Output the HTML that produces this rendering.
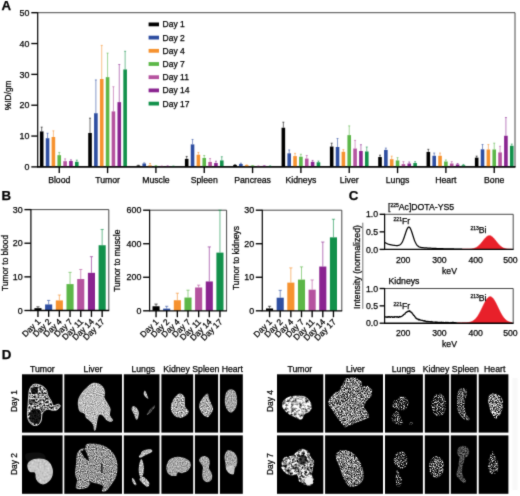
<!DOCTYPE html><html><head><meta charset="utf-8"><title>Figure</title><style>html,body{margin:0;padding:0;background:#fff}svg{display:block}text{font-family:"Liberation Sans",Arial,sans-serif;fill:#000;stroke:#000;stroke-width:0.25px}</style></head><body>
<svg width="520" height="496" viewBox="0 0 520 496">
<defs>
<filter id="gb" color-interpolation-filters="sRGB" x="0" y="0" width="520" height="496" filterUnits="userSpaceOnUse"><feConvolveMatrix order="3" kernelMatrix="0.02 0.09 0.02 0.09 0.56 0.09 0.02 0.09 0.02" edgeMode="duplicate" preserveAlpha="false"/></filter>
<filter id="soft" x="-20%" y="-20%" width="140%" height="140%"><feGaussianBlur stdDeviation="0.4"/></filter>
<filter id="texA" x="-10%" y="-10%" width="120%" height="120%" color-interpolation-filters="sRGB"><feTurbulence type="fractalNoise" baseFrequency="0.9" numOctaves="1" seed="2" result="n"/><feColorMatrix in="n" type="matrix" values="0.9 0 0 0 0.28  0.9 0 0 0 0.28  0.9 0 0 0 0.28  0 0 0 0 1" result="g"/><feComposite in="g" in2="SourceAlpha" operator="in" result="m"/><feGaussianBlur in="m" stdDeviation="0.4"/></filter>
<filter id="texA2" x="-10%" y="-10%" width="120%" height="120%" color-interpolation-filters="sRGB"><feTurbulence type="fractalNoise" baseFrequency="0.87" numOctaves="1" seed="5" result="n"/><feColorMatrix in="n" type="matrix" values="1.4 0 0 0 -0.12  1.4 0 0 0 -0.12  1.4 0 0 0 -0.12  0 0 0 0 1" result="g"/><feComposite in="g" in2="SourceAlpha" operator="in" result="m"/><feGaussianBlur in="m" stdDeviation="0.35"/></filter>
<filter id="texL3" x="-10%" y="-10%" width="120%" height="120%" color-interpolation-filters="sRGB"><feTurbulence type="fractalNoise" baseFrequency="0.9" numOctaves="1" seed="41" result="n"/><feColorMatrix in="n" type="matrix" values="2.2 0 0 0 -0.75  2.2 0 0 0 -0.75  2.2 0 0 0 -0.75  0 0 0 0 1" result="g"/><feComposite in="g" in2="SourceAlpha" operator="in" result="m"/><feGaussianBlur in="m" stdDeviation="0.35"/></filter>
<filter id="texM2" x="-10%" y="-10%" width="120%" height="120%" color-interpolation-filters="sRGB"><feTurbulence type="fractalNoise" baseFrequency="1.2" numOctaves="1" seed="43" result="n"/><feColorMatrix in="n" type="matrix" values="3.2 0 0 0 -1.1  3.2 0 0 0 -1.1  3.2 0 0 0 -1.1  0 0 0 0 1" result="g"/><feComposite in="g" in2="SourceAlpha" operator="in" result="m"/><feGaussianBlur in="m" stdDeviation="0.35"/></filter>
<filter id="texC7" x="-10%" y="-10%" width="120%" height="120%" color-interpolation-filters="sRGB"><feTurbulence type="fractalNoise" baseFrequency="0.4" numOctaves="2" seed="37" result="n"/><feColorMatrix in="n" type="matrix" values="2.4 0 0 0 -0.62  2.4 0 0 0 -0.62  2.4 0 0 0 -0.62  0 0 0 0 1" result="g"/><feComposite in="g" in2="SourceAlpha" operator="in" result="m"/><feGaussianBlur in="m" stdDeviation="0.45"/></filter>
<filter id="texC1" x="-10%" y="-10%" width="120%" height="120%" color-interpolation-filters="sRGB"><feTurbulence type="fractalNoise" baseFrequency="0.55" numOctaves="2" seed="31" result="n"/><feColorMatrix in="n" type="matrix" values="2.4 0 0 0 -0.68  2.4 0 0 0 -0.68  2.4 0 0 0 -0.68  0 0 0 0 1" result="g"/><feComposite in="g" in2="SourceAlpha" operator="in" result="m"/><feGaussianBlur in="m" stdDeviation="0.4"/></filter>
<filter id="texB" x="-10%" y="-10%" width="120%" height="120%" color-interpolation-filters="sRGB"><feTurbulence type="fractalNoise" baseFrequency="0.8" numOctaves="1" seed="7" result="n"/><feColorMatrix in="n" type="matrix" values="1.5 0 0 0 -0.08  1.5 0 0 0 -0.08  1.5 0 0 0 -0.08  0 0 0 0 1" result="g"/><feComposite in="g" in2="SourceAlpha" operator="in" result="m"/><feGaussianBlur in="m" stdDeviation="0.4"/></filter>
<filter id="texS" x="-10%" y="-10%" width="120%" height="120%" color-interpolation-filters="sRGB"><feTurbulence type="fractalNoise" baseFrequency="0.8" numOctaves="1" seed="9" result="n"/><feColorMatrix in="n" type="matrix" values="0.8 0 0 0 0.25  0.8 0 0 0 0.25  0.8 0 0 0 0.25  0 0 0 0 1" result="g"/><feComposite in="g" in2="SourceAlpha" operator="in" result="m"/><feGaussianBlur in="m" stdDeviation="0.45"/></filter>
<filter id="texT" x="-10%" y="-10%" width="120%" height="120%" color-interpolation-filters="sRGB"><feTurbulence type="fractalNoise" baseFrequency="0.5" numOctaves="1" seed="4" result="n"/><feColorMatrix in="n" type="matrix" values="0.3 0 0 0 0.63  0.3 0 0 0 0.63  0.3 0 0 0 0.63  0 0 0 0 1" result="g"/><feComposite in="g" in2="SourceAlpha" operator="in" result="m"/><feGaussianBlur in="m" stdDeviation="0.55"/></filter>
<filter id="texC" x="-10%" y="-10%" width="120%" height="120%" color-interpolation-filters="sRGB"><feTurbulence type="fractalNoise" baseFrequency="0.35" numOctaves="2" seed="11" result="n"/><feColorMatrix in="n" type="matrix" values="2.2 0 0 0 -0.35  2.2 0 0 0 -0.35  2.2 0 0 0 -0.35  0 0 0 0 1" result="g"/><feComposite in="g" in2="SourceAlpha" operator="in" result="m"/><feGaussianBlur in="m" stdDeviation="0.45"/></filter>
<filter id="texH" x="-10%" y="-10%" width="120%" height="120%" color-interpolation-filters="sRGB"><feTurbulence type="fractalNoise" baseFrequency="1.3" numOctaves="1" seed="13" result="n"/><feColorMatrix in="n" type="matrix" values="2.6 0 0 0 -0.8  2.6 0 0 0 -0.8  2.6 0 0 0 -0.8  0 0 0 0 1" result="g"/><feComposite in="g" in2="SourceAlpha" operator="in" result="m"/><feGaussianBlur in="m" stdDeviation="0.3"/></filter>
<filter id="texM" x="-10%" y="-10%" width="120%" height="120%" color-interpolation-filters="sRGB"><feTurbulence type="fractalNoise" baseFrequency="1.2" numOctaves="1" seed="17" result="n"/><feColorMatrix in="n" type="matrix" values="3.2 0 0 0 -1.25  3.2 0 0 0 -1.25  3.2 0 0 0 -1.25  0 0 0 0 1" result="g"/><feComposite in="g" in2="SourceAlpha" operator="in" result="m"/><feGaussianBlur in="m" stdDeviation="0.35"/></filter>
<filter id="texL" x="-10%" y="-10%" width="120%" height="120%" color-interpolation-filters="sRGB"><feTurbulence type="fractalNoise" baseFrequency="1.2" numOctaves="1" seed="19" result="n"/><feColorMatrix in="n" type="matrix" values="3.2 0 0 0 -1.35  3.2 0 0 0 -1.35  3.2 0 0 0 -1.35  0 0 0 0 1" result="g"/><feComposite in="g" in2="SourceAlpha" operator="in" result="m"/><feGaussianBlur in="m" stdDeviation="0.35"/></filter>
<filter id="texL2" x="-10%" y="-10%" width="120%" height="120%" color-interpolation-filters="sRGB"><feTurbulence type="fractalNoise" baseFrequency="1.2" numOctaves="1" seed="23" result="n"/><feColorMatrix in="n" type="matrix" values="3.2 0 0 0 -1.4  3.2 0 0 0 -1.4  3.2 0 0 0 -1.4  0 0 0 0 1" result="g"/><feComposite in="g" in2="SourceAlpha" operator="in" result="m"/><feGaussianBlur in="m" stdDeviation="0.35"/></filter>
<filter id="texD" x="-10%" y="-10%" width="120%" height="120%" color-interpolation-filters="sRGB"><feTurbulence type="fractalNoise" baseFrequency="0.9" numOctaves="1" seed="29" result="n"/><feColorMatrix in="n" type="matrix" values="1.0 0 0 0 -0.2  1.0 0 0 0 -0.2  1.0 0 0 0 -0.2  0 0 0 0 1" result="g"/><feComposite in="g" in2="SourceAlpha" operator="in" result="m"/><feGaussianBlur in="m" stdDeviation="0.5"/></filter>
</defs>
<rect width="520" height="496" fill="#fff"/>
<g id="all" filter="url(#gb)">
<path d="M37.7 12.7H515V166.9" fill="none" stroke="#333" stroke-width="0.9"/>
<path d="M37.7 12.2V166.9" fill="none" stroke="#000" stroke-width="1.2"/>
<path d="M37.1 166.9H515.4" fill="none" stroke="#000" stroke-width="1.35"/>
<path d="M31.300000000000004 166.9H37.7" stroke="#000" stroke-width="1.35"/>
<text x="29.400000000000002" y="170.1" text-anchor="end" font-size="8.9">0</text>
<path d="M31.300000000000004 136.06H37.7" stroke="#000" stroke-width="1.35"/>
<text x="29.400000000000002" y="139.26" text-anchor="end" font-size="8.9">10</text>
<path d="M31.300000000000004 105.22H37.7" stroke="#000" stroke-width="1.35"/>
<text x="29.400000000000002" y="108.42" text-anchor="end" font-size="8.9">20</text>
<path d="M31.300000000000004 74.38H37.7" stroke="#000" stroke-width="1.35"/>
<text x="29.400000000000002" y="77.58" text-anchor="end" font-size="8.9">30</text>
<path d="M31.300000000000004 43.53999999999999H37.7" stroke="#000" stroke-width="1.35"/>
<text x="29.400000000000002" y="46.739999999999995" text-anchor="end" font-size="8.9">40</text>
<path d="M31.300000000000004 12.699999999999989H37.7" stroke="#000" stroke-width="1.35"/>
<text x="29.400000000000002" y="15.899999999999988" text-anchor="end" font-size="8.9">50</text>
<text transform="translate(10.9,95.3) rotate(-90)" text-anchor="middle" font-size="8.4">%ID/gm</text>
<path d="M59.25 166.9V173.1" stroke="#000" stroke-width="1.35"/>
<text x="59.25" y="182.5" text-anchor="middle" font-size="8.7">Blood</text>
<path d="M41.70 131.43V127.12M40.70 127.12H42.70" stroke="#000000" stroke-width="0.6" fill="none" opacity="0.95"/>
<rect x="39.90" y="131.43" width="3.6" height="35.47" fill="#000000"/>
<path d="M47.55 138.22V133.28M46.55 133.28H48.55" stroke="#2e4ea1" stroke-width="0.6" fill="none" opacity="0.95"/>
<rect x="45.75" y="138.22" width="3.6" height="28.68" fill="#2e4ea1"/>
<path d="M53.40 136.99V130.82M52.40 130.82H54.40" stroke="#f6922f" stroke-width="0.6" fill="none" opacity="0.95"/>
<rect x="51.60" y="136.99" width="3.6" height="29.91" fill="#f6922f"/>
<path d="M59.25 155.18V152.41M58.25 152.41H60.25" stroke="#5cb748" stroke-width="0.6" fill="none" opacity="0.95"/>
<rect x="57.45" y="155.18" width="3.6" height="11.72" fill="#5cb748"/>
<path d="M65.10 161.19V158.88M64.10 158.88H66.10" stroke="#b5539f" stroke-width="0.6" fill="none" opacity="0.95"/>
<rect x="63.30" y="161.19" width="3.6" height="5.71" fill="#b5539f"/>
<path d="M70.95 161.04V159.81M69.95 159.81H71.95" stroke="#8a2490" stroke-width="0.6" fill="none" opacity="0.95"/>
<rect x="69.15" y="161.04" width="3.6" height="5.86" fill="#8a2490"/>
<path d="M76.80 161.81V160.12M75.80 160.12H77.80" stroke="#12914b" stroke-width="0.6" fill="none" opacity="0.95"/>
<rect x="75.00" y="161.81" width="3.6" height="5.09" fill="#12914b"/>
<path d="M107.58 166.9V173.1" stroke="#000" stroke-width="1.35"/>
<text x="107.58" y="182.5" text-anchor="middle" font-size="8.7">Tumor</text>
<path d="M90.03 132.98V118.17M89.03 118.17H91.03" stroke="#000000" stroke-width="0.6" fill="none" opacity="0.95"/>
<rect x="88.23" y="132.98" width="3.6" height="33.92" fill="#000000"/>
<path d="M95.88 113.24V79.93M94.88 79.93H96.88" stroke="#2e4ea1" stroke-width="0.6" fill="none" opacity="0.95"/>
<rect x="94.08" y="113.24" width="3.6" height="53.66" fill="#2e4ea1"/>
<path d="M101.73 79.01V45.39M100.73 45.39H102.73" stroke="#f6922f" stroke-width="0.6" fill="none" opacity="0.95"/>
<rect x="99.93" y="79.01" width="3.6" height="87.89" fill="#f6922f"/>
<path d="M107.58 77.16V53.10M106.58 53.10H108.58" stroke="#5cb748" stroke-width="0.6" fill="none" opacity="0.95"/>
<rect x="105.78" y="77.16" width="3.6" height="89.74" fill="#5cb748"/>
<path d="M113.43 111.39V86.72M112.43 86.72H114.43" stroke="#b5539f" stroke-width="0.6" fill="none" opacity="0.95"/>
<rect x="111.63" y="111.39" width="3.6" height="55.51" fill="#b5539f"/>
<path d="M119.28 102.14V64.51M118.28 64.51H120.28" stroke="#8a2490" stroke-width="0.6" fill="none" opacity="0.95"/>
<rect x="117.48" y="102.14" width="3.6" height="64.76" fill="#8a2490"/>
<path d="M125.13 69.45V51.25M124.13 51.25H126.13" stroke="#12914b" stroke-width="0.6" fill="none" opacity="0.95"/>
<rect x="123.33" y="69.45" width="3.6" height="97.45" fill="#12914b"/>
<path d="M155.91 166.9V173.1" stroke="#000" stroke-width="1.35"/>
<text x="155.91" y="182.5" text-anchor="middle" font-size="8.7">Muscle</text>
<path d="M138.36 165.51V165.20M137.36 165.20H139.36" stroke="#000000" stroke-width="0.6" fill="none" opacity="0.95"/>
<rect x="136.56" y="165.51" width="3.6" height="1.39" fill="#000000"/>
<path d="M144.21 163.51V162.89M143.21 162.89H145.21" stroke="#2e4ea1" stroke-width="0.6" fill="none" opacity="0.95"/>
<rect x="142.41" y="163.51" width="3.6" height="3.39" fill="#2e4ea1"/>
<path d="M150.06 165.36V163.51M149.06 163.51H151.06" stroke="#f6922f" stroke-width="0.6" fill="none" opacity="0.95"/>
<rect x="148.26" y="165.36" width="3.6" height="1.54" fill="#f6922f"/>
<path d="M155.91 165.82V165.51M154.91 165.51H156.91" stroke="#5cb748" stroke-width="0.6" fill="none" opacity="0.95"/>
<rect x="154.11" y="165.82" width="3.6" height="1.08" fill="#5cb748"/>
<path d="M161.76 166.13V165.97M160.76 165.97H162.76" stroke="#b5539f" stroke-width="0.6" fill="none" opacity="0.95"/>
<rect x="159.96" y="166.13" width="3.6" height="0.77" fill="#b5539f"/>
<path d="M167.61 166.04V165.82M166.61 165.82H168.61" stroke="#8a2490" stroke-width="0.6" fill="none" opacity="0.95"/>
<rect x="165.81" y="166.04" width="3.6" height="0.86" fill="#8a2490"/>
<path d="M173.46 166.13V165.97M172.46 165.97H174.46" stroke="#12914b" stroke-width="0.6" fill="none" opacity="0.95"/>
<rect x="171.66" y="166.13" width="3.6" height="0.77" fill="#12914b"/>
<path d="M204.24 166.9V173.1" stroke="#000" stroke-width="1.35"/>
<text x="204.24" y="182.5" text-anchor="middle" font-size="8.7">Spleen</text>
<path d="M186.69 158.88V156.41M185.69 156.41H187.69" stroke="#000000" stroke-width="0.6" fill="none" opacity="0.95"/>
<rect x="184.89" y="158.88" width="3.6" height="8.02" fill="#000000"/>
<path d="M192.54 144.39V139.45M191.54 139.45H193.54" stroke="#2e4ea1" stroke-width="0.6" fill="none" opacity="0.95"/>
<rect x="190.74" y="144.39" width="3.6" height="22.51" fill="#2e4ea1"/>
<path d="M198.39 154.72V152.41M197.39 152.41H199.39" stroke="#f6922f" stroke-width="0.6" fill="none" opacity="0.95"/>
<rect x="196.59" y="154.72" width="3.6" height="12.18" fill="#f6922f"/>
<path d="M204.24 157.96V155.49M203.24 155.49H205.24" stroke="#5cb748" stroke-width="0.6" fill="none" opacity="0.95"/>
<rect x="202.44" y="157.96" width="3.6" height="8.94" fill="#5cb748"/>
<path d="M210.09 161.97V158.57M209.09 158.57H211.09" stroke="#b5539f" stroke-width="0.6" fill="none" opacity="0.95"/>
<rect x="208.29" y="161.97" width="3.6" height="4.93" fill="#b5539f"/>
<path d="M215.94 163.05V161.19M214.94 161.19H216.94" stroke="#8a2490" stroke-width="0.6" fill="none" opacity="0.95"/>
<rect x="214.14" y="163.05" width="3.6" height="3.85" fill="#8a2490"/>
<path d="M221.79 160.42V156.72M220.79 156.72H222.79" stroke="#12914b" stroke-width="0.6" fill="none" opacity="0.95"/>
<rect x="219.99" y="160.42" width="3.6" height="6.48" fill="#12914b"/>
<path d="M252.57 166.9V173.1" stroke="#000" stroke-width="1.35"/>
<text x="252.57" y="182.5" text-anchor="middle" font-size="8.7">Pancreas</text>
<path d="M235.02 164.90V164.74M234.02 164.74H236.02" stroke="#000000" stroke-width="0.6" fill="none" opacity="0.95"/>
<rect x="233.22" y="164.90" width="3.6" height="2.00" fill="#000000"/>
<path d="M240.87 163.97V163.20M239.87 163.20H241.87" stroke="#2e4ea1" stroke-width="0.6" fill="none" opacity="0.95"/>
<rect x="239.07" y="163.97" width="3.6" height="2.93" fill="#2e4ea1"/>
<path d="M246.72 165.20V164.90M245.72 164.90H247.72" stroke="#f6922f" stroke-width="0.6" fill="none" opacity="0.95"/>
<rect x="244.92" y="165.20" width="3.6" height="1.70" fill="#f6922f"/>
<path d="M252.57 165.67V165.51M251.57 165.51H253.57" stroke="#5cb748" stroke-width="0.6" fill="none" opacity="0.95"/>
<rect x="250.77" y="165.67" width="3.6" height="1.23" fill="#5cb748"/>
<path d="M258.42 165.97V165.82M257.42 165.82H259.42" stroke="#b5539f" stroke-width="0.6" fill="none" opacity="0.95"/>
<rect x="256.62" y="165.97" width="3.6" height="0.93" fill="#b5539f"/>
<path d="M264.27 165.82V165.67M263.27 165.67H265.27" stroke="#8a2490" stroke-width="0.6" fill="none" opacity="0.95"/>
<rect x="262.47" y="165.82" width="3.6" height="1.08" fill="#8a2490"/>
<path d="M270.12 165.97V165.82M269.12 165.82H271.12" stroke="#12914b" stroke-width="0.6" fill="none" opacity="0.95"/>
<rect x="268.32" y="165.97" width="3.6" height="0.93" fill="#12914b"/>
<path d="M300.90 166.9V173.1" stroke="#000" stroke-width="1.35"/>
<text x="300.90" y="182.5" text-anchor="middle" font-size="8.7">Kidneys</text>
<path d="M283.35 127.73V122.18M282.35 122.18H284.35" stroke="#000000" stroke-width="0.6" fill="none" opacity="0.95"/>
<rect x="281.55" y="127.73" width="3.6" height="39.17" fill="#000000"/>
<path d="M289.20 153.33V149.94M288.20 149.94H290.20" stroke="#2e4ea1" stroke-width="0.6" fill="none" opacity="0.95"/>
<rect x="287.40" y="153.33" width="3.6" height="13.57" fill="#2e4ea1"/>
<path d="M295.05 156.11V153.33M294.05 153.33H296.05" stroke="#f6922f" stroke-width="0.6" fill="none" opacity="0.95"/>
<rect x="293.25" y="156.11" width="3.6" height="10.79" fill="#f6922f"/>
<path d="M300.90 156.72V154.26M299.90 154.26H301.90" stroke="#5cb748" stroke-width="0.6" fill="none" opacity="0.95"/>
<rect x="299.10" y="156.72" width="3.6" height="10.18" fill="#5cb748"/>
<path d="M306.75 158.57V155.49M305.75 155.49H307.75" stroke="#b5539f" stroke-width="0.6" fill="none" opacity="0.95"/>
<rect x="304.95" y="158.57" width="3.6" height="8.33" fill="#b5539f"/>
<path d="M312.60 161.81V160.42M311.60 160.42H313.60" stroke="#8a2490" stroke-width="0.6" fill="none" opacity="0.95"/>
<rect x="310.80" y="161.81" width="3.6" height="5.09" fill="#8a2490"/>
<path d="M318.45 162.27V161.04M317.45 161.04H319.45" stroke="#12914b" stroke-width="0.6" fill="none" opacity="0.95"/>
<rect x="316.65" y="162.27" width="3.6" height="4.63" fill="#12914b"/>
<path d="M349.23 166.9V173.1" stroke="#000" stroke-width="1.35"/>
<text x="349.23" y="182.5" text-anchor="middle" font-size="8.7">Liver</text>
<path d="M331.68 146.55V143.15M330.68 143.15H332.68" stroke="#000000" stroke-width="0.6" fill="none" opacity="0.95"/>
<rect x="329.88" y="146.55" width="3.6" height="20.35" fill="#000000"/>
<path d="M337.53 147.01V138.53M336.53 138.53H338.53" stroke="#2e4ea1" stroke-width="0.6" fill="none" opacity="0.95"/>
<rect x="335.73" y="147.01" width="3.6" height="19.89" fill="#2e4ea1"/>
<path d="M343.38 151.79V149.63M342.38 149.63H344.38" stroke="#f6922f" stroke-width="0.6" fill="none" opacity="0.95"/>
<rect x="341.58" y="151.79" width="3.6" height="15.11" fill="#f6922f"/>
<path d="M349.23 135.13V125.88M348.23 125.88H350.23" stroke="#5cb748" stroke-width="0.6" fill="none" opacity="0.95"/>
<rect x="347.43" y="135.13" width="3.6" height="31.77" fill="#5cb748"/>
<path d="M355.08 148.55V140.38M354.08 140.38H356.08" stroke="#b5539f" stroke-width="0.6" fill="none" opacity="0.95"/>
<rect x="353.28" y="148.55" width="3.6" height="18.35" fill="#b5539f"/>
<path d="M360.93 151.02V144.70M359.93 144.70H361.93" stroke="#8a2490" stroke-width="0.6" fill="none" opacity="0.95"/>
<rect x="359.13" y="151.02" width="3.6" height="15.88" fill="#8a2490"/>
<path d="M366.78 151.48V147.01M365.78 147.01H367.78" stroke="#12914b" stroke-width="0.6" fill="none" opacity="0.95"/>
<rect x="364.98" y="151.48" width="3.6" height="15.42" fill="#12914b"/>
<path d="M397.56 166.9V173.1" stroke="#000" stroke-width="1.35"/>
<text x="397.56" y="182.5" text-anchor="middle" font-size="8.7">Lungs</text>
<path d="M380.01 157.03V155.18M379.01 155.18H381.01" stroke="#000000" stroke-width="0.6" fill="none" opacity="0.95"/>
<rect x="378.21" y="157.03" width="3.6" height="9.87" fill="#000000"/>
<path d="M385.86 149.94V148.09M384.86 148.09H386.86" stroke="#2e4ea1" stroke-width="0.6" fill="none" opacity="0.95"/>
<rect x="384.06" y="149.94" width="3.6" height="16.96" fill="#2e4ea1"/>
<path d="M391.71 159.19V156.11M390.71 156.11H392.71" stroke="#f6922f" stroke-width="0.6" fill="none" opacity="0.95"/>
<rect x="389.91" y="159.19" width="3.6" height="7.71" fill="#f6922f"/>
<path d="M397.56 160.42V157.65M396.56 157.65H398.56" stroke="#5cb748" stroke-width="0.6" fill="none" opacity="0.95"/>
<rect x="395.76" y="160.42" width="3.6" height="6.48" fill="#5cb748"/>
<path d="M403.41 164.12V161.66M402.41 161.66H404.41" stroke="#b5539f" stroke-width="0.6" fill="none" opacity="0.95"/>
<rect x="401.61" y="164.12" width="3.6" height="2.78" fill="#b5539f"/>
<path d="M409.26 163.51V161.97M408.26 161.97H410.26" stroke="#8a2490" stroke-width="0.6" fill="none" opacity="0.95"/>
<rect x="407.46" y="163.51" width="3.6" height="3.39" fill="#8a2490"/>
<path d="M415.11 163.05V161.66M414.11 161.66H416.11" stroke="#12914b" stroke-width="0.6" fill="none" opacity="0.95"/>
<rect x="413.31" y="163.05" width="3.6" height="3.85" fill="#12914b"/>
<path d="M445.89 166.9V173.1" stroke="#000" stroke-width="1.35"/>
<text x="445.89" y="182.5" text-anchor="middle" font-size="8.7">Heart</text>
<path d="M428.34 151.94V149.32M427.34 149.32H429.34" stroke="#000000" stroke-width="0.6" fill="none" opacity="0.95"/>
<rect x="426.54" y="151.94" width="3.6" height="14.96" fill="#000000"/>
<path d="M434.19 155.80V153.02M433.19 153.02H435.19" stroke="#2e4ea1" stroke-width="0.6" fill="none" opacity="0.95"/>
<rect x="432.39" y="155.80" width="3.6" height="11.10" fill="#2e4ea1"/>
<path d="M440.04 155.80V153.02M439.04 153.02H441.04" stroke="#f6922f" stroke-width="0.6" fill="none" opacity="0.95"/>
<rect x="438.24" y="155.80" width="3.6" height="11.10" fill="#f6922f"/>
<path d="M445.89 161.50V159.96M444.89 159.96H446.89" stroke="#5cb748" stroke-width="0.6" fill="none" opacity="0.95"/>
<rect x="444.09" y="161.50" width="3.6" height="5.40" fill="#5cb748"/>
<path d="M451.74 163.51V161.66M450.74 161.66H452.74" stroke="#b5539f" stroke-width="0.6" fill="none" opacity="0.95"/>
<rect x="449.94" y="163.51" width="3.6" height="3.39" fill="#b5539f"/>
<path d="M457.59 164.43V163.51M456.59 163.51H458.59" stroke="#8a2490" stroke-width="0.6" fill="none" opacity="0.95"/>
<rect x="455.79" y="164.43" width="3.6" height="2.47" fill="#8a2490"/>
<path d="M463.44 165.20V164.43M462.44 164.43H464.44" stroke="#12914b" stroke-width="0.6" fill="none" opacity="0.95"/>
<rect x="461.64" y="165.20" width="3.6" height="1.70" fill="#12914b"/>
<path d="M494.22 166.9V173.1" stroke="#000" stroke-width="1.35"/>
<text x="494.22" y="182.5" text-anchor="middle" font-size="8.7">Bone</text>
<path d="M476.67 157.65V156.11M475.67 156.11H477.67" stroke="#000000" stroke-width="0.6" fill="none" opacity="0.95"/>
<rect x="474.87" y="157.65" width="3.6" height="9.25" fill="#000000"/>
<path d="M482.52 149.32V144.54M481.52 144.54H483.52" stroke="#2e4ea1" stroke-width="0.6" fill="none" opacity="0.95"/>
<rect x="480.72" y="149.32" width="3.6" height="17.58" fill="#2e4ea1"/>
<path d="M488.37 149.48V144.54M487.37 144.54H489.37" stroke="#f6922f" stroke-width="0.6" fill="none" opacity="0.95"/>
<rect x="486.57" y="149.48" width="3.6" height="17.42" fill="#f6922f"/>
<path d="M494.22 149.48V143.15M493.22 143.15H495.22" stroke="#5cb748" stroke-width="0.6" fill="none" opacity="0.95"/>
<rect x="492.42" y="149.48" width="3.6" height="17.42" fill="#5cb748"/>
<path d="M500.07 152.41V146.24M499.07 146.24H501.07" stroke="#b5539f" stroke-width="0.6" fill="none" opacity="0.95"/>
<rect x="498.27" y="152.41" width="3.6" height="14.49" fill="#b5539f"/>
<path d="M505.92 135.75V117.56M504.92 117.56H506.92" stroke="#8a2490" stroke-width="0.6" fill="none" opacity="0.95"/>
<rect x="504.12" y="135.75" width="3.6" height="31.15" fill="#8a2490"/>
<path d="M511.77 145.77V144.08M510.77 144.08H512.77" stroke="#12914b" stroke-width="0.6" fill="none" opacity="0.95"/>
<rect x="509.97" y="145.77" width="3.6" height="21.13" fill="#12914b"/>
<path d="M37.1 166.9H515.4" fill="none" stroke="#000" stroke-width="1.35"/>
<rect x="148.6" y="22.50" width="10.4" height="3.8" fill="#000000"/>
<text x="162.6" y="27.40" font-size="8.5">Day 1</text>
<rect x="148.6" y="35.70" width="10.4" height="3.8" fill="#2e4ea1"/>
<text x="162.6" y="40.60" font-size="8.5">Day 2</text>
<rect x="148.6" y="48.90" width="10.4" height="3.8" fill="#f6922f"/>
<text x="162.6" y="53.80" font-size="8.5">Day 4</text>
<rect x="148.6" y="62.10" width="10.4" height="3.8" fill="#5cb748"/>
<text x="162.6" y="67.00" font-size="8.5">Day 7</text>
<rect x="148.6" y="75.30" width="10.4" height="3.8" fill="#b5539f"/>
<text x="162.6" y="80.20" font-size="8.5">Day 11</text>
<rect x="148.6" y="88.50" width="10.4" height="3.8" fill="#8a2490"/>
<text x="162.6" y="93.40" font-size="8.5">Day 14</text>
<rect x="148.6" y="101.70" width="10.4" height="3.8" fill="#12914b"/>
<text x="162.6" y="106.60" font-size="8.5">Day 17</text>
<text x="1.5" y="10.4" font-size="13.3" font-weight="bold" stroke="none">A</text>
<text x="1.5" y="199.7" font-size="13.3" font-weight="bold" stroke="none">B</text>
<path d="M30.9 209.6H108.8V310.5" fill="none" stroke="#333" stroke-width="0.9"/>
<path d="M30.9 209.1V310.5" fill="none" stroke="#000" stroke-width="1.2"/>
<path d="M24.4 310.50H30.9" stroke="#000" stroke-width="1.35"/>
<text x="22.7" y="313.70" text-anchor="end" font-size="8.9">0</text>
<path d="M24.4 276.87H30.9" stroke="#000" stroke-width="1.35"/>
<text x="22.7" y="280.07" text-anchor="end" font-size="8.9">10</text>
<path d="M24.4 243.23H30.9" stroke="#000" stroke-width="1.35"/>
<text x="22.7" y="246.43" text-anchor="end" font-size="8.9">20</text>
<path d="M24.4 209.60H30.9" stroke="#000" stroke-width="1.35"/>
<text x="22.7" y="212.80" text-anchor="end" font-size="8.9">30</text>
<text transform="translate(8.3,262.9) rotate(-90)" text-anchor="middle" font-size="8.4">Tumor to blood</text>
<path d="M37.95 308.15V306.80M36.35 306.80H39.55" stroke="#000000" stroke-width="0.65" fill="none" opacity="0.95"/>
<rect x="34.40" y="308.15" width="7.1" height="2.35" fill="#000000"/>
<path d="M37.95 310.5V316.9" stroke="#000" stroke-width="1.35"/>
<text transform="translate(40.95,322.10) rotate(-45)" text-anchor="end" font-size="8.4">Day 1</text>
<path d="M48.65 304.45V300.41M47.05 300.41H50.25" stroke="#2e4ea1" stroke-width="0.65" fill="none" opacity="0.95"/>
<rect x="45.10" y="304.45" width="7.1" height="6.05" fill="#2e4ea1"/>
<path d="M48.65 310.5V316.9" stroke="#000" stroke-width="1.35"/>
<text transform="translate(51.65,322.10) rotate(-45)" text-anchor="end" font-size="8.4">Day 2</text>
<path d="M59.35 300.41V295.03M57.75 295.03H60.95" stroke="#f6922f" stroke-width="0.65" fill="none" opacity="0.95"/>
<rect x="55.80" y="300.41" width="7.1" height="10.09" fill="#f6922f"/>
<path d="M59.35 310.5V316.9" stroke="#000" stroke-width="1.35"/>
<text transform="translate(62.35,322.10) rotate(-45)" text-anchor="end" font-size="8.4">Day 4</text>
<path d="M70.05 284.10V272.33M68.45 272.33H71.65" stroke="#5cb748" stroke-width="0.65" fill="none" opacity="0.95"/>
<rect x="66.50" y="284.10" width="7.1" height="26.40" fill="#5cb748"/>
<path d="M70.05 310.5V316.9" stroke="#000" stroke-width="1.35"/>
<text transform="translate(73.05,322.10) rotate(-45)" text-anchor="end" font-size="8.4">Day 7</text>
<path d="M80.75 279.05V269.47M79.15 269.47H82.35" stroke="#b5539f" stroke-width="0.65" fill="none" opacity="0.95"/>
<rect x="77.20" y="279.05" width="7.1" height="31.45" fill="#b5539f"/>
<path d="M80.75 310.5V316.9" stroke="#000" stroke-width="1.35"/>
<text transform="translate(83.75,322.10) rotate(-45)" text-anchor="end" font-size="8.4">Day 11</text>
<path d="M91.45 272.83V256.69M89.85 256.69H93.05" stroke="#8a2490" stroke-width="0.65" fill="none" opacity="0.95"/>
<rect x="87.90" y="272.83" width="7.1" height="37.67" fill="#8a2490"/>
<path d="M91.45 310.5V316.9" stroke="#000" stroke-width="1.35"/>
<text transform="translate(94.45,322.10) rotate(-45)" text-anchor="end" font-size="8.4">Day 14</text>
<path d="M102.15 245.25V229.44M100.55 229.44H103.75" stroke="#12914b" stroke-width="0.65" fill="none" opacity="0.95"/>
<rect x="98.60" y="245.25" width="7.1" height="65.25" fill="#12914b"/>
<path d="M102.15 310.5V316.9" stroke="#000" stroke-width="1.35"/>
<text transform="translate(105.15,322.10) rotate(-45)" text-anchor="end" font-size="8.4">Day 17</text>
<path d="M30.299999999999997 310.5H109.2" fill="none" stroke="#000" stroke-width="1.35"/>
<path d="M149.6 210.2H226.6V310.8" fill="none" stroke="#333" stroke-width="0.9"/>
<path d="M149.6 209.7V310.8" fill="none" stroke="#000" stroke-width="1.2"/>
<path d="M143.1 310.80H149.6" stroke="#000" stroke-width="1.35"/>
<text x="141.4" y="314.00" text-anchor="end" font-size="8.9">0</text>
<path d="M143.1 277.27H149.6" stroke="#000" stroke-width="1.35"/>
<text x="141.4" y="280.47" text-anchor="end" font-size="8.9">200</text>
<path d="M143.1 243.73H149.6" stroke="#000" stroke-width="1.35"/>
<text x="141.4" y="246.93" text-anchor="end" font-size="8.9">400</text>
<path d="M143.1 210.20H149.6" stroke="#000" stroke-width="1.35"/>
<text x="141.4" y="213.40" text-anchor="end" font-size="8.9">600</text>
<text transform="translate(120.0,260.7) rotate(-90)" text-anchor="middle" font-size="8.4">Tumor to muscle</text>
<path d="M156.05 306.27V304.09M154.45 304.09H157.65" stroke="#000000" stroke-width="0.65" fill="none" opacity="0.95"/>
<rect x="152.50" y="306.27" width="7.1" height="4.53" fill="#000000"/>
<path d="M156.05 310.8V317.2" stroke="#000" stroke-width="1.35"/>
<text transform="translate(159.05,322.40) rotate(-45)" text-anchor="end" font-size="8.4">Day 1</text>
<path d="M166.70 308.62V306.27M165.10 306.27H168.30" stroke="#2e4ea1" stroke-width="0.65" fill="none" opacity="0.95"/>
<rect x="163.15" y="308.62" width="7.1" height="2.18" fill="#2e4ea1"/>
<path d="M166.70 310.8V317.2" stroke="#000" stroke-width="1.35"/>
<text transform="translate(169.70,322.40) rotate(-45)" text-anchor="end" font-size="8.4">Day 2</text>
<path d="M177.35 300.24V293.19M175.75 293.19H178.95" stroke="#f6922f" stroke-width="0.65" fill="none" opacity="0.95"/>
<rect x="173.80" y="300.24" width="7.1" height="10.56" fill="#f6922f"/>
<path d="M177.35 310.8V317.2" stroke="#000" stroke-width="1.35"/>
<text transform="translate(180.35,322.40) rotate(-45)" text-anchor="end" font-size="8.4">Day 4</text>
<path d="M188.00 297.55V290.18M186.40 290.18H189.60" stroke="#5cb748" stroke-width="0.65" fill="none" opacity="0.95"/>
<rect x="184.45" y="297.55" width="7.1" height="13.25" fill="#5cb748"/>
<path d="M188.00 310.8V317.2" stroke="#000" stroke-width="1.35"/>
<text transform="translate(191.00,322.40) rotate(-45)" text-anchor="end" font-size="8.4">Day 7</text>
<path d="M198.65 287.49V285.15M197.05 285.15H200.25" stroke="#b5539f" stroke-width="0.65" fill="none" opacity="0.95"/>
<rect x="195.10" y="287.49" width="7.1" height="23.31" fill="#b5539f"/>
<path d="M198.65 310.8V317.2" stroke="#000" stroke-width="1.35"/>
<text transform="translate(201.65,322.40) rotate(-45)" text-anchor="end" font-size="8.4">Day 11</text>
<path d="M209.30 281.46V246.92M207.70 246.92H210.90" stroke="#8a2490" stroke-width="0.65" fill="none" opacity="0.95"/>
<rect x="205.75" y="281.46" width="7.1" height="29.34" fill="#8a2490"/>
<path d="M209.30 310.8V317.2" stroke="#000" stroke-width="1.35"/>
<text transform="translate(212.30,322.40) rotate(-45)" text-anchor="end" font-size="8.4">Day 14</text>
<path d="M219.95 252.62V210.20M218.35 210.20H221.55" stroke="#12914b" stroke-width="0.65" fill="none" opacity="0.95"/>
<rect x="216.40" y="252.62" width="7.1" height="58.18" fill="#12914b"/>
<path d="M219.95 310.8V317.2" stroke="#000" stroke-width="1.35"/>
<text transform="translate(222.95,322.40) rotate(-45)" text-anchor="end" font-size="8.4">Day 17</text>
<path d="M149.0 310.8H227.0" fill="none" stroke="#000" stroke-width="1.35"/>
<path d="M262.3 210.2H341.8V310.8" fill="none" stroke="#333" stroke-width="0.9"/>
<path d="M262.3 209.7V310.8" fill="none" stroke="#000" stroke-width="1.2"/>
<path d="M255.8 310.80H262.3" stroke="#000" stroke-width="1.35"/>
<text x="254.10000000000002" y="314.00" text-anchor="end" font-size="8.9">0</text>
<path d="M255.8 277.27H262.3" stroke="#000" stroke-width="1.35"/>
<text x="254.10000000000002" y="280.47" text-anchor="end" font-size="8.9">10</text>
<path d="M255.8 243.73H262.3" stroke="#000" stroke-width="1.35"/>
<text x="254.10000000000002" y="246.93" text-anchor="end" font-size="8.9">20</text>
<path d="M255.8 210.20H262.3" stroke="#000" stroke-width="1.35"/>
<text x="254.10000000000002" y="213.40" text-anchor="end" font-size="8.9">30</text>
<text transform="translate(238.7,258.0) rotate(-90)" text-anchor="middle" font-size="8.4">Tumor to kidneys</text>
<path d="M269.55 308.45V306.27M267.95 306.27H271.15" stroke="#000000" stroke-width="0.65" fill="none" opacity="0.95"/>
<rect x="266.00" y="308.45" width="7.1" height="2.35" fill="#000000"/>
<path d="M269.55 310.8V317.2" stroke="#000" stroke-width="1.35"/>
<text transform="translate(272.55,322.40) rotate(-45)" text-anchor="end" font-size="8.4">Day 1</text>
<path d="M280.20 297.72V290.34M278.60 290.34H281.80" stroke="#2e4ea1" stroke-width="0.65" fill="none" opacity="0.95"/>
<rect x="276.65" y="297.72" width="7.1" height="13.08" fill="#2e4ea1"/>
<path d="M280.20 310.8V317.2" stroke="#000" stroke-width="1.35"/>
<text transform="translate(283.20,322.40) rotate(-45)" text-anchor="end" font-size="8.4">Day 2</text>
<path d="M290.85 282.63V267.88M289.25 267.88H292.45" stroke="#f6922f" stroke-width="0.65" fill="none" opacity="0.95"/>
<rect x="287.30" y="282.63" width="7.1" height="28.17" fill="#f6922f"/>
<path d="M290.85 310.8V317.2" stroke="#000" stroke-width="1.35"/>
<text transform="translate(293.85,322.40) rotate(-45)" text-anchor="end" font-size="8.4">Day 4</text>
<path d="M301.50 279.61V266.87M299.90 266.87H303.10" stroke="#5cb748" stroke-width="0.65" fill="none" opacity="0.95"/>
<rect x="297.95" y="279.61" width="7.1" height="31.19" fill="#5cb748"/>
<path d="M301.50 310.8V317.2" stroke="#000" stroke-width="1.35"/>
<text transform="translate(304.50,322.40) rotate(-45)" text-anchor="end" font-size="8.4">Day 7</text>
<path d="M312.15 289.67V279.95M310.55 279.95H313.75" stroke="#b5539f" stroke-width="0.65" fill="none" opacity="0.95"/>
<rect x="308.60" y="289.67" width="7.1" height="21.13" fill="#b5539f"/>
<path d="M312.15 310.8V317.2" stroke="#000" stroke-width="1.35"/>
<text transform="translate(315.15,322.40) rotate(-45)" text-anchor="end" font-size="8.4">Day 11</text>
<path d="M322.80 266.54V242.06M321.20 242.06H324.40" stroke="#8a2490" stroke-width="0.65" fill="none" opacity="0.95"/>
<rect x="319.25" y="266.54" width="7.1" height="44.26" fill="#8a2490"/>
<path d="M322.80 310.8V317.2" stroke="#000" stroke-width="1.35"/>
<text transform="translate(325.80,322.40) rotate(-45)" text-anchor="end" font-size="8.4">Day 14</text>
<path d="M333.45 237.36V219.25M331.85 219.25H335.05" stroke="#12914b" stroke-width="0.65" fill="none" opacity="0.95"/>
<rect x="329.90" y="237.36" width="7.1" height="73.44" fill="#12914b"/>
<path d="M333.45 310.8V317.2" stroke="#000" stroke-width="1.35"/>
<text transform="translate(336.45,322.40) rotate(-45)" text-anchor="end" font-size="8.4">Day 17</text>
<path d="M261.7 310.8H342.2" fill="none" stroke="#000" stroke-width="1.35"/>
<text x="348.7" y="199.9" font-size="13.3" font-weight="bold" stroke="none">C</text>
<path d="M462.26 249.12 L462.62 249.12 L462.98 249.13 L463.34 249.13 L463.71 249.13 L464.07 249.14 L464.43 249.14 L464.79 249.14 L465.16 249.14 L465.52 249.14 L465.88 249.14 L466.24 249.14 L466.61 249.14 L466.97 249.14 L467.33 249.14 L467.70 249.13 L468.06 249.12 L468.42 249.11 L468.78 249.10 L469.15 249.09 L469.51 249.07 L469.87 249.05 L470.23 249.03 L470.60 249.00 L470.96 248.97 L471.32 248.93 L471.69 248.88 L472.05 248.83 L472.41 248.77 L472.77 248.71 L473.14 248.63 L473.50 248.54 L473.86 248.45 L474.22 248.34 L474.59 248.22 L474.95 248.09 L475.31 247.94 L475.68 247.78 L476.04 247.60 L476.40 247.40 L476.76 247.19 L477.13 246.96 L477.49 246.71 L477.85 246.44 L478.21 246.16 L478.58 245.85 L478.94 245.53 L479.30 245.19 L479.66 244.83 L480.03 244.45 L480.39 244.06 L480.75 243.65 L481.12 243.23 L481.48 242.80 L481.84 242.36 L482.20 241.90 L482.57 241.45 L482.93 240.99 L483.29 240.53 L483.65 240.07 L484.02 239.62 L484.38 239.18 L484.74 238.75 L485.11 238.34 L485.47 237.95 L485.83 237.57 L486.19 237.23 L486.56 236.91 L486.92 236.62 L487.28 236.36 L487.64 236.14 L488.01 235.96 L488.37 235.82 L488.73 235.71 L489.09 235.65 L489.46 235.63 L489.82 235.65 L490.18 235.72 L490.55 235.82 L490.91 235.97 L491.27 236.16 L491.63 236.38 L492.00 236.64 L492.36 236.93 L492.72 237.25 L493.08 237.60 L493.45 237.98 L493.81 238.37 L494.17 238.79 L494.54 239.22 L494.90 239.66 L495.26 240.12 L495.62 240.58 L495.99 241.04 L496.35 241.50 L496.71 241.96 L497.07 242.41 L497.44 242.86 L497.80 243.29 L498.16 243.72 L498.53 244.13 L498.89 244.53 L499.25 244.90 L499.61 245.27 L499.98 245.61 L500.34 245.94 L500.70 246.25 L501.06 246.53 L501.43 246.80 L501.79 247.06 L502.15 247.29 L502.51 247.50 L502.88 247.70 L503.24 247.88 L503.60 248.05 L503.97 248.20 L504.33 248.34 L504.69 248.46 L505.05 248.57 L505.42 248.67 L505.78 248.76 L506.14 248.84 L506.50 248.91 L506.87 248.97 L507.23 249.03 L507.59 249.08 L507.96 249.12 L508.32 249.16 L508.68 249.19 L509.04 249.22 L509.41 249.24 L509.77 249.26 L510.13 249.28 L510.49 249.29 L510.86 249.31 L511.22 249.32 L511.58 249.33 L511.94 249.34 L511.94 249.4 L462.26 249.4Z" fill="#e8202a" stroke="#e8202a" stroke-width="0.6"/>
<path d="M385.00 242.38 L385.36 242.65 L385.73 242.89 L386.09 243.11 L386.45 243.31 L386.81 243.50 L387.18 243.67 L387.54 243.82 L387.90 243.96 L388.26 244.10 L388.63 244.22 L388.99 244.33 L389.35 244.44 L389.72 244.54 L390.08 244.63 L390.44 244.71 L390.80 244.80 L391.17 244.87 L391.53 244.94 L391.89 245.01 L392.25 245.07 L392.62 245.13 L392.98 245.19 L393.34 245.25 L393.70 245.30 L394.07 245.34 L394.43 245.39 L394.79 245.43 L395.16 245.47 L395.52 245.50 L395.88 245.53 L396.24 245.55 L396.61 245.56 L396.97 245.56 L397.33 245.56 L397.69 245.53 L398.06 245.49 L398.42 245.42 L398.78 245.33 L399.15 245.20 L399.51 245.04 L399.87 244.84 L400.23 244.58 L400.60 244.27 L400.96 243.90 L401.32 243.46 L401.68 242.95 L402.05 242.36 L402.41 241.69 L402.77 240.94 L403.13 240.12 L403.50 239.22 L403.86 238.25 L404.22 237.23 L404.59 236.16 L404.95 235.06 L405.31 233.95 L405.67 232.86 L406.04 231.79 L406.40 230.78 L406.76 229.85 L407.12 229.03 L407.49 228.32 L407.85 227.76 L408.21 227.35 L408.58 227.11 L408.94 227.05 L409.30 227.16 L409.66 227.45 L410.03 227.90 L410.39 228.52 L410.75 229.27 L411.11 230.15 L411.48 231.13 L411.84 232.19 L412.20 233.30 L412.57 234.45 L412.93 235.60 L413.29 236.75 L413.65 237.87 L414.02 238.94 L414.38 239.96 L414.74 240.91 L415.10 241.79 L415.47 242.59 L415.83 243.31 L416.19 243.95 L416.55 244.51 L416.92 245.00 L417.28 245.43 L417.64 245.79 L418.01 246.11 L418.37 246.39 L418.73 246.62 L419.09 246.81 L419.46 246.97 L419.82 247.11 L420.18 247.22 L420.54 247.31 L420.91 247.39 L421.27 247.46 L421.63 247.52 L422.00 247.57 L422.36 247.61 L422.72 247.65 L423.08 247.69 L423.45 247.73 L423.81 247.76 L424.17 247.79 L424.53 247.82 L424.90 247.84 L425.26 247.87 L425.62 247.90 L425.99 247.92 L426.35 247.95 L426.71 247.97 L427.07 247.99 L427.44 248.02 L427.80 248.04 L428.16 248.06 L428.52 248.08 L428.89 248.11 L429.25 248.13 L429.61 248.15 L429.97 248.17 L430.34 248.19 L430.70 248.21 L431.06 248.23 L431.43 248.25 L431.79 248.27 L432.15 248.29 L432.51 248.31 L432.88 248.32 L433.24 248.34 L433.60 248.36 L433.96 248.38 L434.33 248.39 L434.69 248.41 L435.05 248.43 L435.42 248.44 L435.78 248.46 L436.14 248.47 L436.50 248.49 L436.87 248.50 L437.23 248.52 L437.59 248.53 L437.95 248.55 L438.32 248.56 L438.68 248.58 L439.04 248.59 L439.40 248.60 L439.77 248.62 L440.13 248.63 L440.49 248.64 L440.86 248.65 L441.22 248.67 L441.58 248.68 L441.94 248.69 L442.31 248.70 L442.67 248.71 L443.03 248.72 L443.39 248.74 L443.76 248.75 L444.12 248.76 L444.48 248.77 L444.85 248.78 L445.21 248.79 L445.57 248.80 L445.93 248.81 L446.30 248.82 L446.66 248.83 L447.02 248.84 L447.38 248.85 L447.75 248.86 L448.11 248.87 L448.47 248.87 L448.84 248.88 L449.20 248.89 L449.56 248.90 L449.92 248.91 L450.29 248.92 L450.65 248.92 L451.01 248.93 L451.37 248.94 L451.74 248.95 L452.10 248.95 L452.46 248.96 L452.82 248.97 L453.19 248.98 L453.55 248.98 L453.91 248.99 L454.28 249.00 L454.64 249.00 L455.00 249.01 L455.36 249.02 L455.73 249.02 L456.09 249.03 L456.45 249.04 L456.81 249.04 L457.18 249.05 L457.54 249.05 L457.90 249.06 L458.27 249.06 L458.63 249.07 L458.99 249.08 L459.35 249.08 L459.72 249.09 L460.08 249.09 L460.44 249.10 L460.80 249.10 L461.17 249.11 L461.53 249.11 L461.89 249.11 L462.26 249.12" fill="none" stroke="#000" stroke-width="1.25" stroke-linejoin="round"/>
<path d="M384.6 214.3H513.2V249.4" fill="none" stroke="#333" stroke-width="0.9"/>
<path d="M384.6 213.8V249.4" fill="none" stroke="#000" stroke-width="1.2"/>
<path d="M384.0 249.4H513.6" fill="none" stroke="#000" stroke-width="1.35"/>
<path d="M379.6 249.40H384.6" stroke="#000" stroke-width="1.35"/>
<text x="378.1" y="252.50" text-anchor="end" font-size="8.700000000000001">0.0</text>
<path d="M379.6 231.85H384.6" stroke="#000" stroke-width="1.35"/>
<text x="378.1" y="234.95" text-anchor="end" font-size="8.700000000000001">0.5</text>
<path d="M379.6 214.30H384.6" stroke="#000" stroke-width="1.35"/>
<text x="378.1" y="217.40" text-anchor="end" font-size="8.700000000000001">1.0</text>
<text x="403.13" y="262.60" text-anchor="middle" font-size="8.700000000000001">200</text>
<text x="439.40" y="262.60" text-anchor="middle" font-size="8.700000000000001">300</text>
<text x="475.68" y="262.60" text-anchor="middle" font-size="8.700000000000001">400</text>
<text x="510.44" y="262.60" text-anchor="middle" font-size="8.700000000000001">500</text>
<text x="449.5" y="273.60" text-anchor="middle" font-size="8.700000000000001">keV</text>
<text x="388" y="210.10" font-size="8.7">[<tspan font-size="5" dy="-3">225</tspan><tspan dy="3">Ac]DOTA-YS5</tspan></text>
<text x="393.6" y="223.8" font-size="8.700000000000001"><tspan font-size="5" dy="-3">221</tspan><tspan dy="3">Fr</tspan></text>
<text x="470.4" y="233.4" font-size="8.700000000000001"><tspan font-size="5" dy="-3">213</tspan><tspan dy="3">Bi</tspan></text>
<path d="M457.54 322.86 L457.90 322.86 L458.27 322.86 L458.63 322.87 L458.99 322.87 L459.35 322.87 L459.72 322.87 L460.08 322.87 L460.44 322.88 L460.80 322.88 L461.17 322.88 L461.53 322.88 L461.89 322.88 L462.26 322.87 L462.62 322.87 L462.98 322.87 L463.34 322.86 L463.71 322.85 L464.07 322.85 L464.43 322.84 L464.79 322.82 L465.16 322.81 L465.52 322.79 L465.88 322.77 L466.24 322.75 L466.61 322.72 L466.97 322.69 L467.33 322.65 L467.70 322.61 L468.06 322.56 L468.42 322.50 L468.78 322.44 L469.15 322.37 L469.51 322.29 L469.87 322.20 L470.23 322.10 L470.60 321.99 L470.96 321.87 L471.32 321.74 L471.69 321.58 L472.05 321.42 L472.41 321.24 L472.77 321.04 L473.14 320.82 L473.50 320.58 L473.86 320.32 L474.22 320.04 L474.59 319.74 L474.95 319.41 L475.31 319.06 L475.68 318.69 L476.04 318.29 L476.40 317.86 L476.76 317.40 L477.13 316.92 L477.49 316.42 L477.85 315.88 L478.21 315.32 L478.58 314.74 L478.94 314.13 L479.30 313.49 L479.66 312.84 L480.03 312.16 L480.39 311.46 L480.75 310.75 L481.12 310.02 L481.48 309.28 L481.84 308.53 L482.20 307.78 L482.57 307.02 L482.93 306.26 L483.29 305.50 L483.65 304.75 L484.02 304.01 L484.38 303.29 L484.74 302.58 L485.11 301.90 L485.47 301.25 L485.83 300.62 L486.19 300.03 L486.56 299.48 L486.92 298.97 L487.28 298.50 L487.64 298.08 L488.01 297.71 L488.37 297.39 L488.73 297.13 L489.09 296.93 L489.46 296.78 L489.82 296.69 L490.18 296.66 L490.55 296.69 L490.91 296.78 L491.27 296.93 L491.63 297.14 L492.00 297.40 L492.36 297.72 L492.72 298.09 L493.08 298.51 L493.45 298.98 L493.81 299.50 L494.17 300.05 L494.54 300.64 L494.90 301.27 L495.26 301.93 L495.62 302.61 L495.99 303.32 L496.35 304.04 L496.71 304.78 L497.07 305.54 L497.44 306.29 L497.80 307.06 L498.16 307.82 L498.53 308.58 L498.89 309.33 L499.25 310.07 L499.61 310.80 L499.98 311.52 L500.34 312.21 L500.70 312.89 L501.06 313.55 L501.43 314.19 L501.79 314.80 L502.15 315.39 L502.51 315.95 L502.88 316.49 L503.24 317.00 L503.60 317.48 L503.97 317.93 L504.33 318.36 L504.69 318.77 L505.05 319.15 L505.42 319.50 L505.78 319.83 L506.14 320.13 L506.50 320.41 L506.87 320.68 L507.23 320.92 L507.59 321.14 L507.96 321.34 L508.32 321.52 L508.68 321.69 L509.04 321.84 L509.41 321.98 L509.77 322.11 L510.13 322.22 L510.49 322.32 L510.86 322.41 L511.22 322.50 L511.58 322.57 L511.94 322.63 L511.94 323.2 L457.54 323.2Z" fill="#e8202a" stroke="#e8202a" stroke-width="0.6"/>
<path d="M385.00 317.17 L385.36 316.92 L385.73 317.07 L386.09 316.88 L386.45 316.86 L386.81 317.33 L387.18 317.38 L387.54 316.70 L387.90 317.18 L388.26 317.21 L388.63 316.58 L388.99 317.02 L389.35 316.71 L389.72 317.02 L390.08 316.89 L390.44 317.30 L390.80 316.90 L391.17 316.70 L391.53 316.99 L391.89 316.82 L392.25 316.88 L392.62 317.39 L392.98 316.81 L393.34 316.95 L393.70 317.20 L394.07 317.42 L394.43 316.73 L394.79 317.06 L395.16 316.86 L395.52 316.73 L395.88 316.86 L396.24 316.69 L396.61 317.13 L396.97 316.78 L397.33 317.07 L397.69 316.65 L398.06 316.69 L398.42 317.32 L398.78 317.26 L399.15 317.15 L399.51 316.49 L399.87 316.87 L400.23 316.64 L400.60 316.82 L400.96 316.55 L401.32 316.52 L401.68 316.40 L402.05 316.03 L402.41 315.83 L402.77 315.34 L403.13 315.27 L403.50 314.78 L403.86 314.54 L404.22 314.10 L404.59 314.02 L404.95 314.09 L405.31 313.14 L405.67 312.69 L406.04 312.38 L406.40 312.32 L406.76 311.88 L407.12 312.02 L407.49 311.26 L407.85 311.27 L408.21 311.37 L408.58 311.47 L408.94 310.78 L409.30 310.70 L409.66 311.54 L410.03 311.10 L410.39 311.63 L410.75 312.09 L411.11 312.26 L411.48 312.19 L411.84 312.45 L412.20 313.50 L412.57 313.58 L412.93 314.60 L413.29 314.57 L413.65 315.41 L414.02 315.44 L414.38 315.82 L414.74 316.65 L415.10 316.64 L415.47 317.59 L415.83 318.12 L416.19 318.00 L416.55 318.75 L416.92 318.87 L417.28 318.92 L417.64 318.96 L418.01 319.52 L418.37 319.79 L418.73 319.25 L419.09 319.85 L419.46 319.45 L419.82 319.62 L420.18 320.16 L420.54 320.19 L420.91 320.24 L421.27 320.23 L421.63 320.35 L422.00 320.47 L422.36 320.50 L422.72 320.30 L423.08 320.74 L423.45 320.87 L423.81 320.70 L424.17 321.17 L424.53 321.18 L424.90 320.67 L425.26 321.11 L425.62 321.15 L425.99 321.65 L426.35 321.36 L426.71 321.28 L427.07 321.80 L427.44 321.35 L427.80 321.38 L428.16 321.90 L428.52 321.47 L428.89 321.65 L429.25 321.51 L429.61 321.83 L429.97 321.57 L430.34 321.58 L430.70 322.21 L431.06 322.22 L431.43 321.74 L431.79 321.53 L432.15 322.16 L432.51 322.02 L432.88 321.93 L433.24 322.19 L433.60 322.18 L433.96 322.25 L434.33 322.23 L434.69 322.07 L435.05 322.34 L435.42 322.30 L435.78 321.99 L436.14 322.64 L436.50 322.21 L436.87 322.09 L437.23 322.46 L437.59 322.56 L437.95 322.09 L438.32 322.58 L438.68 322.64 L439.04 322.45 L439.40 322.25 L439.77 322.76 L440.13 322.60 L440.49 322.60 L440.86 322.20 L441.22 322.55 L441.58 322.21 L441.94 322.80 L442.31 322.67 L442.67 322.42 L443.03 322.24 L443.39 322.61 L443.76 322.81 L444.12 322.91 L444.48 322.58 L444.85 322.88 L445.21 322.37 L445.57 322.36 L445.93 322.91 L446.30 322.84 L446.66 322.41 L447.02 322.56 L447.38 322.43 L447.75 322.82 L448.11 323.01 L448.47 322.89 L448.84 322.48 L449.20 322.92 L449.56 322.86 L449.92 322.81 L450.29 322.82 L450.65 322.83 L451.01 322.41 L451.37 323.06 L451.74 323.19 L452.10 322.41 L452.46 322.47 L452.82 322.39 L453.19 322.85 L453.55 322.43 L453.91 322.46 L454.28 323.05 L454.64 322.62 L455.00 322.55 L455.36 322.70 L455.73 322.82 L456.09 323.02 L456.45 322.98 L456.81 323.08 L457.18 323.21 L457.54 322.86" fill="none" stroke="#000" stroke-width="1.25" stroke-linejoin="round"/>
<path d="M384.6 288.5H513.2V323.2" fill="none" stroke="#333" stroke-width="0.9"/>
<path d="M384.6 288.0V323.2" fill="none" stroke="#000" stroke-width="1.2"/>
<path d="M384.0 323.2H513.6" fill="none" stroke="#000" stroke-width="1.35"/>
<path d="M379.6 323.20H384.6" stroke="#000" stroke-width="1.35"/>
<text x="378.1" y="326.30" text-anchor="end" font-size="8.700000000000001">0.0</text>
<path d="M379.6 305.85H384.6" stroke="#000" stroke-width="1.35"/>
<text x="378.1" y="308.95" text-anchor="end" font-size="8.700000000000001">0.5</text>
<path d="M379.6 288.50H384.6" stroke="#000" stroke-width="1.35"/>
<text x="378.1" y="291.60" text-anchor="end" font-size="8.700000000000001">1.0</text>
<text x="403.13" y="336.40" text-anchor="middle" font-size="8.700000000000001">200</text>
<text x="439.40" y="336.40" text-anchor="middle" font-size="8.700000000000001">300</text>
<text x="475.68" y="336.40" text-anchor="middle" font-size="8.700000000000001">400</text>
<text x="510.44" y="336.40" text-anchor="middle" font-size="8.700000000000001">500</text>
<text x="449.5" y="347.40" text-anchor="middle" font-size="8.700000000000001">keV</text>
<text x="388.5" y="283.90" font-size="8.7">Kidneys</text>
<text x="393.6" y="308.7" font-size="8.700000000000001"><tspan font-size="5" dy="-3">221</tspan><tspan dy="3">Fr</tspan></text>
<text x="470.4" y="301" font-size="8.700000000000001"><tspan font-size="5" dy="-3">213</tspan><tspan dy="3">Bi</tspan></text>
<text transform="translate(359.6,267.0) rotate(-90)" text-anchor="middle" font-size="8.8">Intensity (normalized)</text>
<path d="M362.8 222.7V308.9" stroke="#444" stroke-width="0.75"/>
<text x="1.7" y="358.5" font-size="13.3" font-weight="bold" stroke="none">D</text>
<rect x="22.0" y="374.3" width="40.60" height="58.30" fill="#000"/>
<rect x="22.0" y="435.4" width="40.60" height="58.40" fill="#000"/>
<rect x="64.3" y="374.3" width="57.70" height="58.30" fill="#000"/>
<rect x="64.3" y="435.4" width="57.70" height="58.40" fill="#000"/>
<rect x="123.8" y="374.3" width="35.70" height="58.30" fill="#000"/>
<rect x="123.8" y="435.4" width="35.70" height="58.40" fill="#000"/>
<rect x="161.4" y="374.3" width="31.80" height="58.30" fill="#000"/>
<rect x="161.4" y="435.4" width="31.80" height="58.40" fill="#000"/>
<rect x="194.9" y="374.3" width="23.20" height="58.30" fill="#000"/>
<rect x="194.9" y="435.4" width="23.20" height="58.40" fill="#000"/>
<rect x="219.9" y="374.3" width="22.90" height="58.30" fill="#000"/>
<rect x="219.9" y="435.4" width="22.90" height="58.40" fill="#000"/>
<rect x="277.0" y="374.3" width="46.30" height="58.30" fill="#000"/>
<rect x="277.0" y="435.4" width="46.30" height="58.40" fill="#000"/>
<rect x="325.1" y="374.3" width="57.90" height="58.30" fill="#000"/>
<rect x="325.1" y="435.4" width="57.90" height="58.40" fill="#000"/>
<rect x="385.0" y="374.3" width="37.90" height="58.30" fill="#000"/>
<rect x="385.0" y="435.4" width="37.90" height="58.40" fill="#000"/>
<rect x="424.8" y="374.3" width="24.40" height="58.30" fill="#000"/>
<rect x="424.8" y="435.4" width="24.40" height="58.40" fill="#000"/>
<rect x="450.8" y="374.3" width="26.00" height="58.30" fill="#000"/>
<rect x="450.8" y="435.4" width="26.00" height="58.40" fill="#000"/>
<rect x="478.7" y="374.3" width="29.70" height="58.30" fill="#000"/>
<rect x="478.7" y="435.4" width="29.70" height="58.40" fill="#000"/>
<text x="42.3" y="371.7" text-anchor="middle" font-size="8.7">Tumor</text>
<text x="93" y="371.7" text-anchor="middle" font-size="8.7">Liver</text>
<text x="143.3" y="371.7" text-anchor="middle" font-size="8.7">Lungs</text>
<text x="176.5" y="371.7" text-anchor="middle" font-size="8.7">Kidney</text>
<text x="205.8" y="371.7" text-anchor="middle" font-size="8.7">Spleen</text>
<text x="232.3" y="371.7" text-anchor="middle" font-size="8.7">Heart</text>
<text x="299.8" y="371.7" text-anchor="middle" font-size="8.7">Tumor</text>
<text x="355.3" y="371.7" text-anchor="middle" font-size="8.7">Liver</text>
<text x="403.6" y="371.7" text-anchor="middle" font-size="8.7">Lungs</text>
<text x="436" y="371.7" text-anchor="middle" font-size="8.7">Kidney</text>
<text x="465.4" y="371.7" text-anchor="middle" font-size="8.7">Spleen</text>
<text x="494.7" y="371.7" text-anchor="middle" font-size="8.7">Heart</text>
<text transform="translate(16.5,401) rotate(-90)" text-anchor="middle" font-size="8.4">Day 1</text>
<text transform="translate(16.5,464) rotate(-90)" text-anchor="middle" font-size="8.4">Day 2</text>
<text transform="translate(273.3,401) rotate(-90)" text-anchor="middle" font-size="8.4">Day 4</text>
<text transform="translate(273.3,464) rotate(-90)" text-anchor="middle" font-size="8.4">Day 7</text>
<path d="M34.11 384.29 C36.02 383.79 39.35 384.59 41.37 385.50 C43.39 386.41 45.10 388.02 46.21 389.74 C47.32 391.45 47.22 393.98 48.03 395.79 C48.84 397.61 50.15 399.02 51.06 400.63 C51.96 402.25 52.27 404.87 53.48 405.48 C54.69 406.08 57.21 404.17 58.32 404.27 C59.43 404.37 60.34 405.17 60.14 406.08 C59.93 406.99 58.42 409.01 57.11 409.71 C55.80 410.42 53.68 410.42 52.27 410.32 C50.85 410.22 49.85 409.11 48.63 409.11 C47.42 409.11 46.11 409.51 45.00 410.32 C43.89 411.13 42.58 412.34 41.98 413.95 C41.37 415.57 41.87 418.29 41.37 420.00 C40.87 421.72 40.16 423.33 38.95 424.24 C37.74 425.15 35.72 425.86 34.11 425.45 C32.49 425.05 30.37 423.54 29.26 421.82 C28.15 420.11 27.65 417.89 27.45 415.16 C27.25 412.44 27.85 408.71 28.05 405.48 C28.26 402.25 28.36 398.62 28.66 395.79 C28.96 392.97 28.96 390.44 29.87 388.53 C30.78 386.61 32.19 384.79 34.11 384.29Z" fill="#fff" filter="url(#texC1)" />
<path d="M31.08 410.32 C32.79 408.71 38.65 408.40 40.16 410.32 C41.67 412.24 41.07 419.60 40.16 421.82 C39.25 424.04 36.43 423.94 34.71 423.64 C33.00 423.33 30.47 422.22 29.87 420.00 C29.26 417.79 29.36 411.93 31.08 410.32Z" fill="#000" opacity="0.85" filter="url(#soft)"/>
<path d="M32.29 387.92 C33.30 387.12 36.23 386.61 37.13 387.32 C38.04 388.02 38.24 391.05 37.74 392.16 C37.23 393.27 35.22 393.98 34.11 393.98 C33.00 393.98 31.38 393.17 31.08 392.16 C30.78 391.15 31.28 388.73 32.29 387.92Z" fill="#000" opacity="0.85" filter="url(#soft)"/>
<path d="M30.47 400.03 C31.28 399.22 34.71 398.41 35.32 398.82 C35.92 399.22 34.91 401.64 34.11 402.45 C33.30 403.26 31.08 404.06 30.47 403.66 C29.87 403.26 29.67 400.84 30.47 400.03Z" fill="#000" opacity="0.6" filter="url(#soft)"/>
<path d="M34.11 384.29 C36.02 383.79 39.35 384.59 41.37 385.50 C43.39 386.41 45.10 388.02 46.21 389.74 C47.32 391.45 47.22 393.98 48.03 395.79 C48.84 397.61 50.15 399.02 51.06 400.63 C51.96 402.25 52.27 404.87 53.48 405.48 C54.69 406.08 57.21 404.17 58.32 404.27 C59.43 404.37 60.34 405.17 60.14 406.08 C59.93 406.99 58.42 409.01 57.11 409.71 C55.80 410.42 53.68 410.42 52.27 410.32 C50.85 410.22 49.85 409.11 48.63 409.11 C47.42 409.11 46.11 409.51 45.00 410.32 C43.89 411.13 42.58 412.34 41.98 413.95 C41.37 415.57 41.87 418.29 41.37 420.00 C40.87 421.72 40.16 423.33 38.95 424.24 C37.74 425.15 35.72 425.86 34.11 425.45 C32.49 425.05 30.37 423.54 29.26 421.82 C28.15 420.11 27.65 417.89 27.45 415.16 C27.25 412.44 27.85 408.71 28.05 405.48 C28.26 402.25 28.36 398.62 28.66 395.79 C28.96 392.97 28.96 390.44 29.87 388.53 C30.78 386.61 32.19 384.79 34.11 384.29Z" fill="none" stroke="#d8d8d8" stroke-width="0.9" filter="url(#soft)"/>
<path d="M92.43 383.07 C94.44 382.47 97.26 382.97 99.08 383.68 C100.89 384.38 102.30 385.89 103.31 387.31 C104.32 388.72 104.93 390.43 105.13 392.14 C105.33 393.86 104.12 395.77 104.52 397.59 C104.93 399.40 106.54 401.12 107.55 403.03 C108.55 404.95 110.17 407.06 110.57 409.08 C110.97 411.10 109.56 413.31 109.97 415.13 C110.37 416.94 112.89 418.86 112.99 419.97 C113.09 421.07 111.68 421.78 110.57 421.78 C109.46 421.78 107.65 420.97 106.34 419.97 C105.03 418.96 103.92 416.54 102.71 415.73 C101.50 414.93 99.99 414.22 99.08 415.13 C98.17 416.03 97.77 418.96 97.26 421.18 C96.76 423.39 96.56 426.82 96.06 428.43 C95.55 430.05 94.74 431.46 94.24 430.85 C93.74 430.25 93.74 426.42 93.03 424.80 C92.33 423.19 91.22 422.39 90.01 421.18 C88.80 419.97 86.68 418.76 85.77 417.55 C84.87 416.34 85.57 414.93 84.56 413.92 C83.56 412.91 80.83 412.91 79.73 411.50 C78.62 410.09 78.11 407.67 77.91 405.45 C77.71 403.23 77.81 400.41 78.52 398.19 C79.22 395.97 80.73 393.96 82.14 392.14 C83.56 390.33 85.27 388.82 86.98 387.31 C88.70 385.79 90.41 383.68 92.43 383.07Z" fill="#fff" filter="url(#texA)" />
<path d="M144.36 390.92 C144.76 390.52 145.67 391.32 146.17 392.13 C146.67 392.93 147.02 394.64 147.38 395.75 C147.74 396.86 148.55 398.47 148.34 398.77 C148.14 399.08 146.93 398.27 146.17 397.56 C145.40 396.86 144.05 395.65 143.75 394.54 C143.45 393.44 143.95 391.32 144.36 390.92Z" fill="#fff" filter="url(#texA)" />
<path d="M132.88 406.02 C133.68 405.72 135.49 406.73 136.50 407.84 C137.51 408.94 138.72 410.86 138.92 412.67 C139.12 414.48 138.21 417.61 137.71 418.71 C137.21 419.82 136.50 420.02 135.90 419.32 C135.29 418.61 134.79 416.09 134.08 414.48 C133.38 412.87 131.87 411.06 131.67 409.65 C131.47 408.24 132.07 406.33 132.88 406.02Z" fill="#fff" filter="url(#texA)" />
<path d="M154.02 405.66 C154.93 405.16 155.43 405.86 154.63 407.23 C153.82 408.60 150.50 412.67 149.19 413.88 C147.88 415.09 146.77 415.09 146.77 414.48 C146.77 413.88 147.98 411.72 149.19 410.25 C150.40 408.78 153.12 406.17 154.02 405.66Z" fill="#fff" filter="url(#texD)" />
<path d="M179.61 393.61 C181.38 393.34 183.56 394.70 184.52 396.88 C185.47 399.06 184.65 404.37 185.34 406.69 C186.02 409.01 188.33 409.41 188.60 410.78 C188.88 412.14 188.20 413.69 186.97 414.86 C185.74 416.03 183.16 417.53 181.25 417.81 C179.34 418.08 177.16 417.53 175.53 416.50 C173.89 415.46 172.18 413.50 171.44 411.59 C170.71 409.69 170.71 407.24 171.11 405.06 C171.52 402.88 172.48 400.42 173.89 398.52 C175.31 396.61 177.84 393.89 179.61 393.61Z" fill="#fff" filter="url(#texB)" />
<path d="M207.40 393.61 C208.63 393.48 208.35 396.75 209.04 398.52 C209.72 400.29 210.81 402.47 211.49 404.24 C212.17 406.01 213.26 407.51 213.12 409.14 C212.99 410.78 211.62 412.68 210.67 414.05 C209.72 415.41 208.63 417.18 207.40 417.31 C206.18 417.45 204.54 416.09 203.31 414.86 C202.09 413.64 200.73 411.59 200.05 409.96 C199.36 408.32 198.96 406.83 199.23 405.06 C199.50 403.29 200.32 401.24 201.68 399.34 C203.04 397.43 206.18 393.75 207.40 393.61Z" fill="#fff" filter="url(#texB)" />
<path d="M231.10 389.20 C232.52 389.34 234.51 390.15 235.51 391.98 C236.52 393.80 237.07 397.56 237.15 400.15 C237.23 402.74 236.88 405.46 236.01 407.51 C235.13 409.55 233.28 411.87 231.92 412.41 C230.56 412.96 228.98 412.14 227.83 410.78 C226.69 409.41 225.52 406.55 225.05 404.24 C224.59 401.92 224.73 399.06 225.05 396.88 C225.38 394.70 226.01 392.44 227.02 391.16 C228.02 389.88 229.69 389.06 231.10 389.20Z" fill="#fff" filter="url(#texS)" />
<path d="M26.00 454.00 C28.00 452.50 37.83 452.17 41.00 453.00 C44.17 453.83 47.00 457.50 45.00 459.00 C43.00 460.50 32.17 462.83 29.00 462.00 C25.83 461.17 24.00 455.50 26.00 454.00Z" fill="#fff" opacity="0.06"/>
<path d="M28.00 463.00 C29.07 461.50 31.33 459.67 34.00 459.00 C36.67 458.33 41.33 458.33 44.00 459.00 C46.67 459.67 48.50 461.00 50.00 463.00 C51.50 465.00 52.83 468.33 53.00 471.00 C53.17 473.67 52.33 476.83 51.00 479.00 C49.67 481.17 46.83 483.23 45.00 484.00 C43.17 484.77 41.50 484.43 40.00 483.60 C38.50 482.77 36.83 480.77 36.00 479.00 C35.17 477.23 36.00 474.17 35.00 473.00 C34.00 471.83 31.23 472.83 30.00 472.00 C28.77 471.17 27.93 469.50 27.60 468.00 C27.27 466.50 26.93 464.50 28.00 463.00Z" fill="#fff" filter="url(#texT)" />
<path d="M87.00 444.00 C89.17 443.27 94.50 443.33 98.00 444.00 C101.50 444.67 105.17 446.00 108.00 448.00 C110.83 450.00 113.40 453.00 115.00 456.00 C116.60 459.00 117.43 462.50 117.60 466.00 C117.77 469.50 117.10 473.83 116.00 477.00 C114.90 480.17 112.67 482.67 111.00 485.00 C109.33 487.33 107.50 490.00 106.00 491.00 C104.50 492.00 102.50 491.83 102.00 491.00 C101.50 490.17 103.67 487.17 103.00 486.00 C102.33 484.83 100.00 484.50 98.00 484.00 C96.00 483.50 92.67 482.50 91.00 483.00 C89.33 483.50 89.50 486.00 88.00 487.00 C86.50 488.00 84.00 488.83 82.00 489.00 C80.00 489.17 76.83 489.50 76.00 488.00 C75.17 486.50 77.17 482.33 77.00 480.00 C76.83 477.67 75.17 476.67 75.00 474.00 C74.83 471.33 75.67 467.33 76.00 464.00 C76.33 460.67 76.17 456.50 77.00 454.00 C77.83 451.50 79.67 449.93 81.00 449.00 C82.33 448.07 84.00 449.23 85.00 448.40 C86.00 447.57 84.83 444.73 87.00 444.00Z" fill="#fff" filter="url(#texA2)" />
<path d="M80.60 451.60 L85.00 449.20 L87.60 455.60 L89.40 461.60 L84.40 457.60Z" fill="#000" filter="url(#soft)"/>
<path d="M101.00 464.00 L102.40 464.00 L102.80 473.00 L101.20 473.00Z" fill="#000" opacity="0.8" filter="url(#soft)"/>
<path d="M89.00 481.00 L93.00 482.00 L90.00 484.00Z" fill="#000" opacity="0.8" filter="url(#soft)"/>
<path d="M142.00 451.50 C143.04 450.77 145.44 449.94 147.00 449.62 C148.56 449.31 150.54 449.21 151.38 449.62 C152.21 450.04 152.73 451.29 152.00 452.12 C151.27 452.96 148.88 453.69 147.00 454.62 C145.12 455.56 142.10 457.44 140.75 457.75 C139.40 458.06 138.88 457.12 138.88 456.50 C138.88 455.88 140.23 454.83 140.75 454.00 C141.27 453.17 140.96 452.23 142.00 451.50Z" fill="#fff" filter="url(#texA)" />
<path d="M140.75 459.62 C141.38 458.69 142.10 459.52 142.62 460.88 C143.15 462.23 143.77 465.56 143.88 467.75 C143.98 469.94 143.77 472.33 143.25 474.00 C142.73 475.67 141.48 477.96 140.75 477.75 C140.02 477.54 139.19 474.62 138.88 472.75 C138.56 470.88 138.56 468.69 138.88 466.50 C139.19 464.31 140.12 460.56 140.75 459.62Z" fill="#fff" filter="url(#texA)" />
<path d="M140.75 477.75 C141.48 477.33 142.52 476.40 143.88 477.12 C145.23 477.85 148.04 480.67 148.88 482.12 C149.71 483.58 149.29 485.15 148.88 485.88 C148.46 486.60 147.52 487.02 146.38 486.50 C145.23 485.98 143.15 483.90 142.00 482.75 C140.85 481.60 139.71 480.46 139.50 479.62 C139.29 478.79 140.02 478.17 140.75 477.75Z" fill="#fff" filter="url(#texA)" />
<path d="M132.00 478.38 C132.21 477.85 133.15 478.06 133.88 479.00 C134.60 479.94 136.17 482.96 136.38 484.00 C136.58 485.04 135.75 485.56 135.12 485.25 C134.50 484.94 133.15 483.27 132.62 482.12 C132.10 480.98 131.79 478.90 132.00 478.38Z" fill="#fff" filter="url(#texA)" />
<path d="M169.81 459.34 C171.44 457.84 174.03 457.16 176.35 456.88 C178.66 456.61 181.52 457.02 183.70 457.70 C185.88 458.38 188.25 459.61 189.42 460.97 C190.59 462.33 191.00 464.24 190.73 465.87 C190.46 467.51 189.23 469.55 187.79 470.78 C186.34 472.00 183.70 472.96 182.07 473.23 C180.43 473.50 178.93 472.00 177.98 472.41 C177.03 472.82 177.43 475.14 176.35 475.68 C175.26 476.23 172.94 476.23 171.44 475.68 C169.94 475.14 168.17 474.05 167.36 472.41 C166.54 470.78 166.13 468.05 166.54 465.87 C166.95 463.69 168.17 460.83 169.81 459.34Z" fill="#fff" filter="url(#texS)" />
<path d="M203.31 456.07 C204.68 455.98 207.13 456.61 208.22 457.70 C209.31 458.79 209.72 460.83 209.85 462.60 C209.99 464.37 208.68 466.42 209.04 468.32 C209.39 470.23 211.57 472.14 211.98 474.05 C212.39 475.95 212.25 478.40 211.49 479.77 C210.72 481.13 208.76 482.22 207.40 482.22 C206.04 482.22 204.19 481.26 203.31 479.77 C202.44 478.27 202.25 475.41 202.17 473.23 C202.09 471.05 203.31 468.73 202.82 466.69 C202.33 464.65 199.69 462.39 199.23 460.97 C198.77 459.55 199.36 459.01 200.05 458.19 C200.73 457.37 201.95 456.15 203.31 456.07Z" fill="#fff" filter="url(#texS)" />
<path d="M227.83 450.35 C229.33 449.66 232.00 450.75 233.55 451.98 C235.11 453.21 236.60 455.52 237.15 457.70 C237.69 459.88 237.29 463.15 236.82 465.06 C236.36 466.96 234.92 467.64 234.37 469.14 C233.83 470.64 234.37 473.36 233.55 474.05 C232.74 474.73 230.69 474.05 229.47 473.23 C228.24 472.41 226.88 470.78 226.20 469.14 C225.52 467.51 225.65 465.60 225.38 463.42 C225.11 461.24 224.15 458.25 224.56 456.07 C224.97 453.89 226.33 451.03 227.83 450.35Z" fill="#fff" filter="url(#texS)" />
<path d="M226.69 466.69 C227.89 466.15 232.35 464.70 233.55 465.87 C234.75 467.04 234.56 472.49 233.88 473.72 C233.20 474.94 230.72 473.99 229.47 473.23 C228.21 472.47 226.82 470.23 226.36 469.14 C225.90 468.05 225.49 467.24 226.69 466.69Z" fill="#fff" filter="url(#texT)" />
<path d="M283.46 400.56 C284.87 398.80 287.69 397.14 290.87 396.33 C294.04 395.52 299.68 395.34 302.50 395.69 C305.32 396.05 306.20 396.75 307.79 398.44 C309.38 400.14 311.67 403.73 312.02 405.85 C312.37 407.96 311.14 409.73 309.91 411.14 C308.67 412.55 306.03 412.90 304.62 414.31 C303.21 415.72 303.03 419.07 301.44 419.60 C299.86 420.13 297.39 418.54 295.10 417.48 C292.81 416.43 289.81 415.02 287.69 413.25 C285.58 411.49 283.11 409.02 282.40 406.91 C281.70 404.79 282.05 402.32 283.46 400.56Z" fill="#fff" filter="url(#texC)" />
<path d="M345.87 378.35 L355.39 377.29 L361.74 381.52 L361.74 386.81 L368.08 385.75 L372.31 389.98 L371.26 396.33 L365.97 401.62 L363.85 406.91 L368.08 413.25 L369.14 417.48 L344.81 427.43 L338.47 419.60 L327.89 403.73 L328.95 399.50 L334.23 393.16 L339.52 389.98 L342.70 383.64Z" fill="#fff" filter="url(#texH)" />
<path d="M284.52 457.33 C286.53 455.57 290.87 456.27 292.98 455.21 C295.10 454.16 295.63 452.04 297.21 450.98 C298.80 449.92 300.56 448.69 302.50 448.87 C304.44 449.04 307.44 450.63 308.85 452.04 C310.26 453.45 310.08 455.74 310.96 457.33 C311.85 458.91 313.78 459.80 314.14 461.56 C314.49 463.32 313.43 465.61 313.08 467.91 C312.73 470.20 311.85 473.19 312.02 475.31 C312.20 477.43 314.31 478.91 314.14 480.60 C313.96 482.29 312.37 484.76 310.96 485.46 C309.55 486.17 307.61 485.46 305.67 484.83 C303.74 484.20 300.74 483.24 299.33 481.66 C297.92 480.07 298.62 476.37 297.21 475.31 C295.80 474.25 292.98 475.84 290.87 475.31 C288.75 474.78 286.18 473.72 284.52 472.14 C282.86 470.55 280.92 468.26 280.92 465.79 C280.92 463.32 282.51 459.09 284.52 457.33Z" fill="#fff" filter="url(#texC7)" />
<ellipse cx="308.85" cy="480.81" rx="4.2" ry="4.2" fill="#eee" filter="url(#soft)"/>
<ellipse cx="302.92" cy="460.08" rx="4" ry="5" fill="#000" opacity="0.7" filter="url(#soft)"/>
<path d="M336.35 453.10 C337.41 451.51 340.23 450.10 342.70 449.92 C345.16 449.75 348.51 450.45 351.16 452.04 C353.80 453.63 356.62 456.62 358.56 459.44 C360.50 462.26 361.98 465.79 362.79 468.96 C363.60 472.14 364.13 475.84 363.43 478.48 C362.72 481.13 360.61 483.42 358.56 484.83 C356.52 486.24 353.27 487.30 351.16 486.95 C349.04 486.59 347.35 484.65 345.87 482.71 C344.39 480.78 343.33 477.95 342.27 475.31 C341.22 472.67 340.51 469.49 339.52 466.85 C338.54 464.20 336.88 461.74 336.35 459.44 C335.82 457.15 335.29 454.68 336.35 453.10Z" fill="#fff" filter="url(#texH)" />
<path d="M400.50 396.23 C401.73 395.78 403.86 396.11 405.21 396.90 C406.55 397.68 408.24 399.25 408.57 400.94 C408.91 402.62 408.12 405.42 407.23 406.99 C406.33 408.56 404.87 409.91 403.19 410.36 C401.51 410.81 398.93 410.36 397.13 409.69 C395.34 409.01 392.98 407.78 392.42 406.32 C391.86 404.86 392.87 402.06 393.77 400.94 C394.66 399.82 396.68 400.38 397.80 399.59 C398.93 398.81 399.26 396.67 400.50 396.23Z" fill="#fff" filter="url(#texL)" />
<path d="M395.11 411.70 C396.23 410.81 397.47 411.26 398.48 412.38 C399.49 413.50 400.38 416.53 401.17 418.43 C401.95 420.34 403.52 422.81 403.19 423.82 C402.85 424.83 400.72 424.71 399.15 424.49 C397.58 424.27 395.00 423.59 393.77 422.47 C392.53 421.35 391.52 419.55 391.75 417.76 C391.97 415.97 393.99 412.60 395.11 411.70Z" fill="#fff" filter="url(#texL)" />
<path d="M409.24 422.47 L412.61 422.47 L412.61 424.76 L409.24 424.76Z" fill="#fff" filter="url(#texL)" />
<ellipse cx="438.85" cy="404.97" rx="7.40" ry="11.44" fill="#fff" filter="url(#texL2)"/>
<path d="M459.09 389.50 C460.55 387.81 464.59 387.93 465.82 388.82 C467.06 389.72 466.72 392.75 466.50 394.88 C466.27 397.01 464.70 399.14 464.48 401.61 C464.25 404.08 464.70 407.33 465.15 409.69 C465.60 412.04 466.38 414.28 467.17 415.74 C467.95 417.20 469.75 417.65 469.86 418.43 C469.97 419.22 468.96 420.45 467.84 420.45 C466.72 420.45 464.59 419.55 463.13 418.43 C461.67 417.31 460.10 415.63 459.09 413.72 C458.08 411.82 457.41 409.46 457.08 406.99 C456.74 404.53 456.74 401.83 457.08 398.92 C457.41 396.00 457.64 391.18 459.09 389.50Z" fill="#fff" filter="url(#texL3)" />
<path d="M489.38 394.88 C490.50 393.76 492.97 393.31 494.76 393.53 C496.55 393.76 498.80 394.88 500.14 396.23 C501.49 397.57 502.50 399.37 502.84 401.61 C503.17 403.85 502.84 407.22 502.16 409.69 C501.49 412.15 499.92 414.96 498.80 416.41 C497.68 417.87 496.67 418.88 495.43 418.43 C494.20 417.98 492.41 415.63 491.40 413.72 C490.39 411.82 489.94 409.24 489.38 406.99 C488.82 404.75 488.03 402.28 488.03 400.26 C488.03 398.24 488.26 396.00 489.38 394.88Z" fill="#fff" filter="url(#texM2)" />
<path d="M396.46 453.19 C398.03 451.84 401.39 450.95 403.19 451.84 C404.98 452.74 406.67 456.33 407.23 458.57 C407.79 460.82 407.45 463.62 406.55 465.30 C405.66 466.98 403.52 468.44 401.84 468.67 C400.16 468.89 397.80 468.11 396.46 466.65 C395.11 465.19 393.77 462.16 393.77 459.92 C393.77 457.67 394.89 454.53 396.46 453.19Z" fill="#fff" filter="url(#texL)" />
<path d="M396.46 470.69 C396.91 469.23 397.92 470.46 398.48 471.36 C399.04 472.26 399.26 474.72 399.82 476.07 C400.38 477.41 401.73 477.86 401.84 479.43 C401.95 481.00 401.28 484.37 400.50 485.49 C399.71 486.61 397.92 487.06 397.13 486.16 C396.35 485.27 395.90 482.69 395.79 480.11 C395.67 477.53 396.01 472.14 396.46 470.69Z" fill="#fff" filter="url(#texL)" />
<ellipse cx="436.43" cy="466.92" rx="7.40" ry="10.77" fill="#fff" filter="url(#texM)"/>
<ellipse cx="463.13" cy="451.84" rx="6.06" ry="6.06" fill="#fff" filter="url(#texD)"/>
<path d="M459.77 457.23 C460.78 455.77 464.03 456.33 464.48 457.90 C464.93 459.47 462.80 463.84 462.46 466.65 C462.12 469.45 461.90 472.37 462.46 474.72 C463.02 477.08 465.60 479.43 465.82 480.78 C466.05 482.13 464.93 483.13 463.80 482.80 C462.68 482.46 460.33 480.11 459.09 478.76 C457.86 477.41 456.51 476.74 456.40 474.72 C456.29 472.70 457.86 469.56 458.42 466.65 C458.98 463.73 458.76 458.68 459.77 457.23Z" fill="#fff" filter="url(#texD)" />
<path d="M492.74 451.17 C493.53 451.51 494.54 454.42 495.43 456.55 C496.33 458.68 497.79 461.49 498.13 463.96 C498.46 466.42 498.24 469.68 497.45 471.36 C496.67 473.04 494.76 473.94 493.41 474.05 C492.07 474.16 490.27 473.49 489.38 472.03 C488.48 470.57 488.14 467.43 488.03 465.30 C487.92 463.17 488.26 461.04 488.70 459.24 C489.15 457.45 490.05 455.88 490.72 454.53 C491.40 453.19 491.96 450.83 492.74 451.17Z" fill="#fff" filter="url(#texL)" />
<rect x="512.5" y="378" width="5" height="112" fill="#f8f8f8"/>
</g></svg></body></html>
